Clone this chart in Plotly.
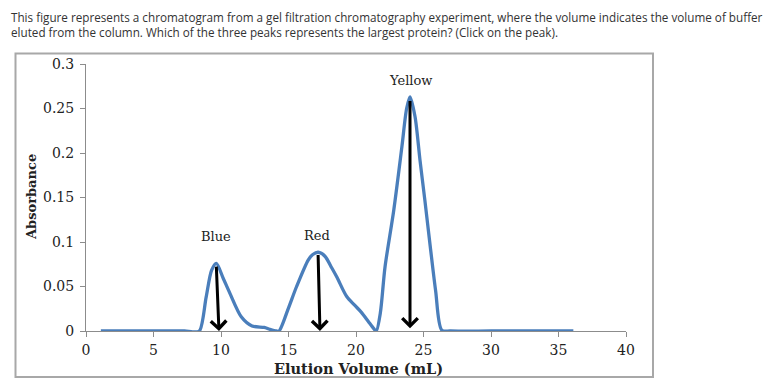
import plotly.graph_objects as go

# ---- data ----
elution_volume = [1.1, 3, 5, 7.3, 7.9, 8.4, 8.9, 9.3, 9.65, 10.17, 10.67, 11.5, 12.3, 13.2, 13.6, 14.1,
                  14.3, 14.99, 15.6, 16.47, 16.8, 17.2, 17.7, 18.2, 18.6, 19.3, 19.9, 20.4, 20.9, 21.3,
                  21.5, 21.8, 22.15, 22.8, 23.4, 23.75, 24.0, 24.37, 24.74, 25.1, 25.5, 25.9, 26.35,
                  27.0, 30.0, 33.0, 36.1]
absorbance = [0, 0, 0, 0, -0.001, 0.0, 0.038, 0.068, 0.076, 0.059, 0.042, 0.016, 0.0056, 0.004, 0.002, 0.0,
              0.0, 0.0255, 0.05, 0.08, 0.086, 0.0885, 0.084, 0.071, 0.06, 0.039, 0.029, 0.021, 0.011, 0.003,
              0.0, 0.02, 0.072, 0.136, 0.207, 0.25, 0.263, 0.241, 0.192, 0.147, 0.095, 0.045, 0.001,
              0.0, 0.0, 0.0, 0.0]

peak_names = ["Blue", "Red", "Yellow"]
peak_label_x = [9.63, 17.1, 24.07]
peak_label_y = [0.1057, 0.107, 0.281]
arrow_top_x = [9.65, 17.19, 24.0]
arrow_top_y = [0.074, 0.087, 0.26]
arrow_tip_x = [9.85, 17.33, 24.0]
arrow_tip_y = [0.0, 0.0, 0.003]

x_ticks = [0, 5, 10, 15, 20, 25, 30, 35, 40]
y_ticks = [0, 0.05, 0.1, 0.15, 0.2, 0.25, 0.3]
y_tick_text = ["0", "0.05", "0.1", "0.15", "0.2", "0.25", "0.3"]

question = ["This figure represents a chromatogram from a gel filtration chromatography experiment, where the volume indicates the volume of buffer",
            "eluted from the column. Which of the three peaks represents the largest protein? (Click on the peak)."]

# ---- layout geometry (pixels) ----
W, H = 776, 382
L, R, T, B = 86, 626, 64, 331
pw, ph = R - L, B - T

def px(x):
    return (x - L) / pw

def py(y):
    return (B - y) / ph

serif = "DejaVu Serif"

fig = go.Figure()
fig.add_trace(go.Scatter(
    x=elution_volume, y=absorbance, mode="lines",
    line=dict(color="#4A7EBB", width=3.3, shape="spline", smoothing=0.8),
    hoverinfo="skip", showlegend=False))

annotations = []
for name, lx, ly in zip(peak_names, peak_label_x, peak_label_y):
    annotations.append(dict(x=lx, y=ly, xref="x", yref="y", text=name, showarrow=False,
                            xanchor="center", yanchor="middle",
                            font=dict(family=serif, size=13, color="#222222")))
for ax_, ay_, tx, ty in zip(arrow_top_x, arrow_top_y, arrow_tip_x, arrow_tip_y):
    annotations.append(dict(x=tx, y=ty, ax=ax_, ay=ay_, xref="x", yref="y", axref="x", ayref="y",
                            text="", showarrow=True, arrowhead=4, arrowsize=1.0, arrowwidth=3,
                            arrowcolor="#000000", standoff=0, startstandoff=0))

annotations.append(dict(x=px(358), y=py(368), xref="paper", yref="paper", text="<b>Elution Volume (mL)</b>",
                        xanchor="center", yanchor="middle",
                        showarrow=False, font=dict(family=serif, size=14.5, color="#222222")))
annotations.append(dict(x=px(31), y=py(197), xref="paper", yref="paper", text="<b>Absorbance</b>", textangle=-90,
                        xanchor="center", yanchor="middle",
                        showarrow=False, font=dict(family=serif, size=13, color="#222222")))
annotations.append(dict(x=px(9), y=py(7), xref="paper", yref="paper", text="<br>".join(question),
                        xanchor="left", yanchor="top", align="left", showarrow=False,
                        font=dict(family="Open Sans", size=11.7, color="#333333")))

fig.update_layout(
    width=W, height=H,
    margin=dict(l=L, r=W - R, t=T, b=H - B, pad=0),
    paper_bgcolor="white", plot_bgcolor="white",
    annotations=annotations,
    shapes=[dict(type="rect", xref="paper", yref="paper",
                 x0=px(15.5), x1=px(653), y0=py(377), y1=py(53.5),
                 line=dict(color="#A8A8A8", width=2), layer="below")],
    xaxis=dict(range=[0, 40], tickvals=x_ticks, ticktext=[str(v) for v in x_ticks],
               showgrid=False, zeroline=False, showline=True, linecolor="#8C8C8C", linewidth=1,
               ticks="outside", ticklen=5, tickcolor="#8C8C8C", ticklabelstandoff=1,
               tickfont=dict(family=serif, size=14, color="#222222"), fixedrange=True),
    yaxis=dict(range=[0, 0.3], tickvals=y_ticks, ticktext=y_tick_text,
               showgrid=False, zeroline=False, showline=True, linecolor="#8C8C8C", linewidth=1,
               ticks="outside", ticklen=5, tickcolor="#8C8C8C", ticklabelstandoff=3,
               tickfont=dict(family=serif, size=14, color="#222222"), fixedrange=True),
)

fig.write_html("out.html", config={"displayModeBar": False},
               post_script="document.body.style.margin='0px';document.body.style.overflow='hidden';")
